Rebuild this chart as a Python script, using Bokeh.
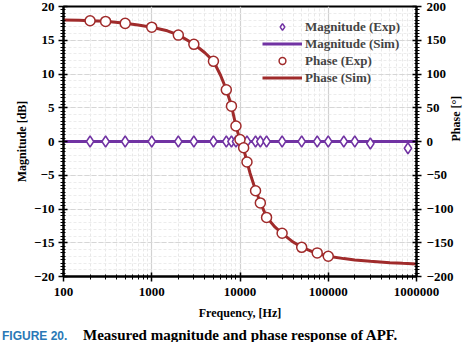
import math
from bokeh.plotting import figure
from bokeh.layouts import column
from bokeh.models import Range1d, LinearAxis, FixedTicker, Legend, LegendItem, Div
from bokeh.embed import file_html
from bokeh.resources import INLINE

FONT = "Liberation Serif"
PURPLE = "#7133a3"
RED = "#a02b2b"

# ---- data ----
mag_exp_f = [200, 300, 500, 1000, 2000, 3000, 5000, 7000, 8000, 9000, 10000, 12000,
             15000, 17000, 20000, 30000, 50000, 75000, 100000, 150000, 200000, 300000, 800000]
mag_exp_db = [0, 0, 0, 0, 0, 0, 0, 0, 0, 0, 0, 0,
              0, 0, 0, 0, 0, 0, 0, 0, 0, -0.3, -1.0]

mag_sim_f = [100, 1000000]
mag_sim_db = [0, 0]

ph_exp_f = [200, 300, 500, 1000, 2000, 3000, 5000, 7000, 8000, 9000, 10000, 11000, 12000,
            15000, 17000, 20000, 30000, 50000, 75000, 100000]
ph_exp_deg = [178.9, 177.9, 175.0, 169.4, 157.6, 143.9, 118.8, 76.5, 52.4, 22.9, 3.0, -9.2, -30.3,
              -73.0, -91.0, -112.5, -136.0, -156.8, -165.0, -170.0]

ph_sim_f = [100, 150, 200, 300, 500, 700, 1000, 1500, 2000, 3000, 4000, 5000, 6000, 7000, 8000,
            9000, 10000, 11000, 12000, 13000, 15000, 17000, 20000, 25000, 30000, 40000, 50000,
            70000, 100000, 150000, 200000, 300000, 500000, 700000, 1000000]
ph_sim_deg = [180, 179.5, 179, 178, 175.2, 172.5, 169.3, 164, 158, 144.5, 131.5, 119, 98.5, 77, 53,
              23, 2, -11, -30, -47, -72, -90, -112, -127, -136, -149, -156.5,
              -164.5, -170, -173.5, -175.5, -177.5, -179.5, -180.5, -181.5]

x_major = [100, 1000, 10000, 100000, 1000000]
x_labels = ["100", "1000", "10000", "100000", "1000000"]
mag_ticks = [-20, -15, -10, -5, 0, 5, 10, 15, 20]
ph_ticks = [-200, -150, -100, -50, 0, 50, 100, 150, 200]

x_minor = [k * 10 ** d for d in range(2, 6) for k in range(2, 10)]
mag_minor = [v * 0.5 for v in range(-40, 41)]
mag_grid_minor = list(range(-20, 21))
ph_minor = [v * 5 for v in range(-40, 41)]

caption_tag = "FIGURE 20."
caption_text = "Measured magnitude and phase response of APF."

p = figure(width=474, height=328, x_axis_type="log",
           x_range=Range1d(100, 1000000), y_range=Range1d(-20, 20),
           output_backend="svg", toolbar_location=None,
           min_border_left=63, min_border_right=58, min_border_top=6, min_border_bottom=52)
p.extra_y_ranges = {"phase": Range1d(-200, 200)}
p.background_fill_color = "white"
p.border_fill_color = "white"
p.outline_line_color = "black"
p.outline_line_width = 2

xt = FixedTicker(ticks=x_major, minor_ticks=x_minor)
p.xaxis.ticker = xt
p.xaxis.major_label_overrides = {t: l for t, l in zip(x_major, x_labels)}
p.xgrid.ticker = xt
p.yaxis.ticker = FixedTicker(ticks=mag_ticks, minor_ticks=mag_minor)
p.ygrid.ticker = FixedTicker(ticks=mag_ticks, minor_ticks=mag_grid_minor)

p.xgrid.grid_line_color = "#d2d2d2"
p.xgrid.grid_line_width = 1.2
p.xgrid.minor_grid_line_color = "#e8e8e8"
p.xgrid.minor_grid_line_dash = "3 2"
p.ygrid.grid_line_color = "#d6d6d6"
p.ygrid.grid_line_width = 1.2
p.ygrid.grid_line_dash = "5 2"
p.ygrid.minor_grid_line_color = "#ececec"
p.ygrid.minor_grid_line_dash = "3 2"

p.xaxis.axis_label = "Frequency, [Hz]"
p.yaxis.axis_label = "Magnitude [dB]"

ax_r = LinearAxis(y_range_name="phase", axis_label="Phase [°]",
                  ticker=FixedTicker(ticks=ph_ticks, minor_ticks=ph_minor))
ax_r.axis_label_orientation = math.pi / 2
p.add_layout(ax_r, "right")

for ax in [p.xaxis[0], p.yaxis[0], ax_r]:
    ax.axis_line_color = "black"
    ax.axis_line_width = 2
    ax.major_tick_line_color = "black"
    ax.major_tick_line_width = 1.5
    ax.minor_tick_line_color = "black"
    ax.major_tick_in = 4
    ax.major_tick_out = 5
    ax.minor_tick_in = 2
    ax.minor_tick_out = 3
    ax.major_label_text_font = FONT
    ax.major_label_text_font_style = "bold"
    ax.major_label_text_font_size = "13px"
    ax.major_label_text_color = "black"
    ax.axis_label_text_font = FONT
    ax.axis_label_text_font_style = "bold"
    ax.axis_label_text_font_size = "12px"
    ax.axis_label_text_color = "black"
p.xaxis.major_label_standoff = 6
p.xaxis.axis_label_standoff = 7
p.yaxis.major_label_standoff = 4
p.yaxis.axis_label_standoff = 2
ax_r.major_label_standoff = 5
ax_r.axis_label_standoff = 0

r_mag_line = p.line(mag_sim_f, mag_sim_db, line_color=PURPLE, line_width=3)
r_mag_pts = p.scatter(mag_exp_f, mag_exp_db, marker="diamond", size=11,
                      line_color=PURPLE, line_width=1.5, fill_color="white")
r_ph_line = p.line(ph_sim_f, ph_sim_deg, y_range_name="phase", line_color=RED, line_width=3)
r_ph_pts = p.scatter(ph_exp_f, ph_exp_deg, y_range_name="phase", marker="circle", size=10,
                     line_color=RED, line_width=1.5, fill_color="white")

legend = Legend(items=[
    LegendItem(label="Magnitude (Exp)", renderers=[r_mag_pts]),
    LegendItem(label="Magnitude (Sim)", renderers=[r_mag_line]),
    LegendItem(label="Phase (Exp)", renderers=[r_ph_pts]),
    LegendItem(label="Phase (Sim)", renderers=[r_ph_line]),
], location=(199, 190), border_line_alpha=0, background_fill_alpha=0,
    label_text_font=FONT, label_text_font_style="bold", label_text_font_size="13px",
    glyph_width=40, glyph_height=17, label_height=17, spacing=0, padding=0, margin=0,
    label_standoff=3)
p.add_layout(legend)

# caption strip
cap_html = (
    '<div style="position:relative;width:474px;height:14px;overflow:hidden;white-space:nowrap;">'
    '<span style="position:absolute;left:2px;top:1px;line-height:14px;color:#2a78b6;'
    'font-family:\'Liberation Sans\';font-weight:bold;font-size:12px;">' + caption_tag + '</span>'
    '<span style="position:absolute;left:83px;top:0px;line-height:14px;color:black;'
    'font-family:\'Liberation Serif\';font-weight:bold;font-size:15px;">' + caption_text + '</span>'
    '</div>'
)
cap = Div(text=cap_html, width=474, height=14, margin=0,
          styles={"overflow": "hidden", "padding": "0px"})

layout = column(p, cap, spacing=0)
open("out.html", "w").write(file_html(layout, INLINE))
